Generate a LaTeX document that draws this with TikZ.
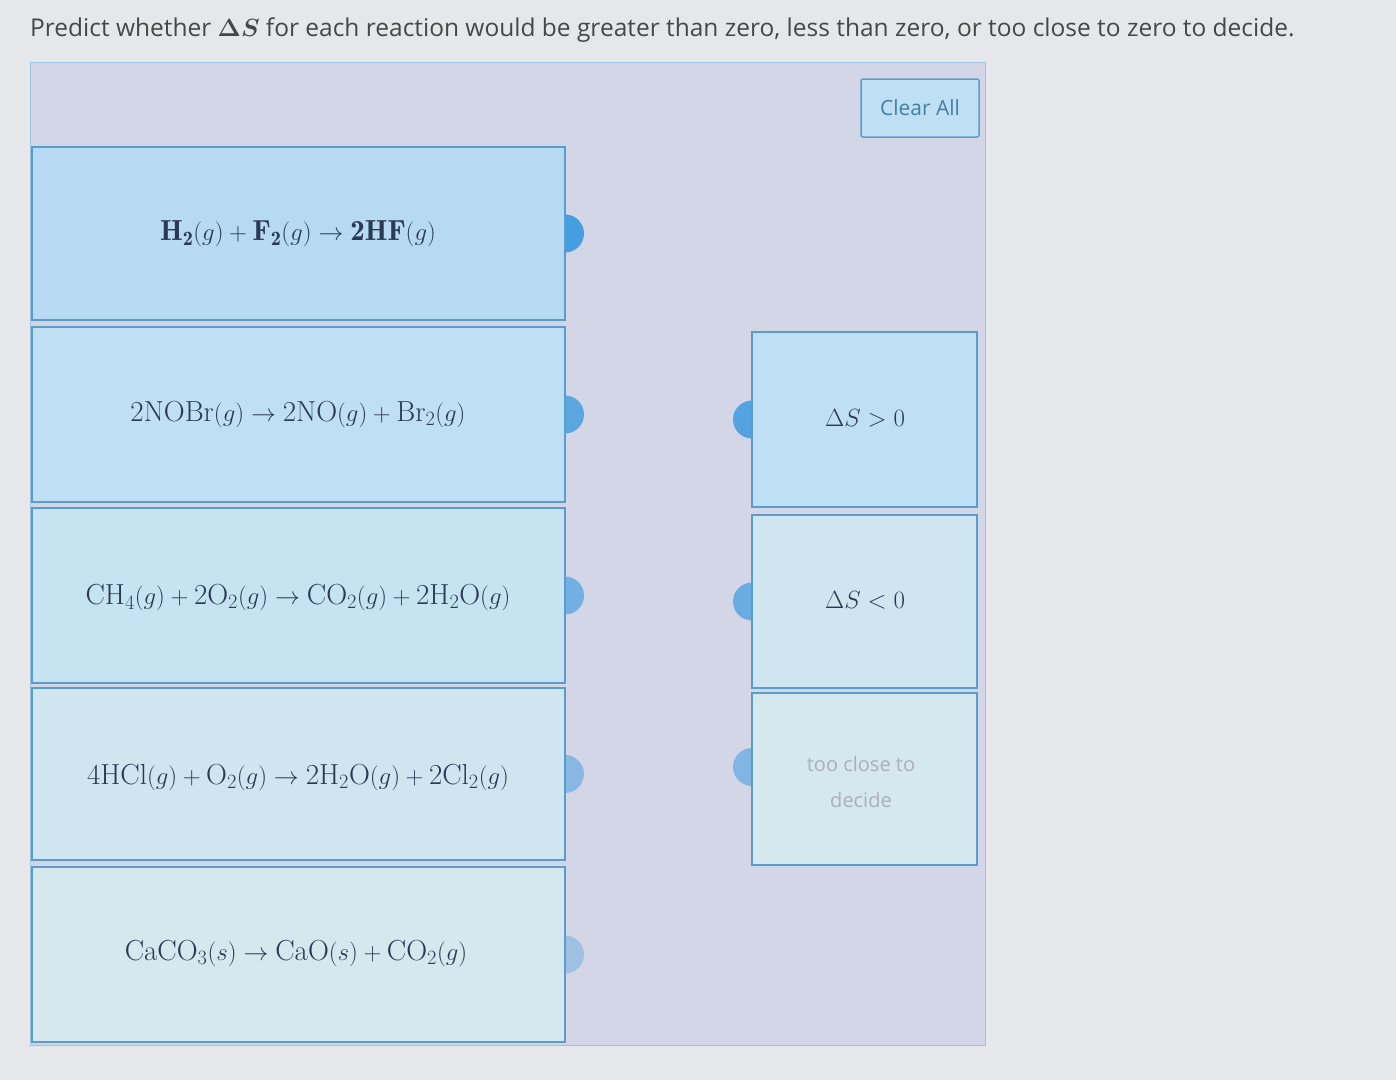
\documentclass[tikz,border=0pt]{standalone}
\usepackage{amsmath,bm}
\usepackage{fontspec}
\setsansfont{Open Sans}
\begin{document}
\begin{tikzpicture}[x=1pt,y=-1pt,
  card/.style={draw=cardline,line width=1.5pt,fill=#1},
  tab/.style={fill=tabblue},
  eq/.style={font=\fontsize{29}{32}\selectfont,text=eqtext},
  ]
\definecolor{bg}{HTML}{E6E7EA}
\definecolor{panel}{HTML}{D3D6E6}
\definecolor{cardline}{HTML}{5A9CCB}
\definecolor{tabblue}{HTML}{3E9BE0}
\definecolor{eqtext}{HTML}{2A3A55}
\definecolor{c1}{HTML}{B5DAF2}
\definecolor{c2}{HTML}{BFE0F4}
\definecolor{c3}{HTML}{C6E3F2}
\definecolor{c4}{HTML}{CFE6F0}
\definecolor{c5}{HTML}{D4E8EE}
\useasboundingbox (0,0) rectangle (1396,1080);
\fill[bg] (0,0) rectangle (1396,1080);
\node[anchor=west,inner sep=0pt,font=\sffamily\fontsize{24.5}{28}\selectfont,text=black!72] (title) at (30,30)
  {Predict whether {\fontsize{30}{32}\selectfont $\bm{\Delta S}$} for each reaction would be greater than zero, less than zero, or too close to zero to decide.};
\draw[draw=cardline!60,fill=panel,line width=1pt] (30,62) rectangle (985,1045);
\node[draw=cardline,line width=1.5pt,fill=c2,rounded corners=2pt,minimum width=118pt,minimum height=58pt,
  font=\sffamily\fontsize{21}{24}\selectfont,text=cardline!80!black] (clear) at (920,108) {Clear All};
% left cards
\foreach \n/\ya/\yb/\c in {1/147/320/c1,2/327/502/c2,3/508/683/c3,4/688/860/c4,5/867/1042/c5}{
  \fill[tab,opacity=1.1-0.15*\n] (565,{(\ya+\yb)/2}) ++(0,-19) arc[start angle=-90,end angle=90,radius=19] -- cycle;
  \draw[card=\c] (32,\ya) rectangle (565,\yb);
}
\node[eq] (r1) at (298,234) {$\mathbf{H_2}(g)+\mathbf{F_2}(g)\rightarrow \mathbf{2HF}(g)$};
\node[eq] (r2) at (298,414) {$\mathrm{2NOBr}(g)\rightarrow \mathrm{2NO}(g)+\mathrm{Br_2}(g)$};
\node[eq] (r3) at (298,597) {$\mathrm{CH_4}(g)+\mathrm{2O_2}(g)\rightarrow \mathrm{CO_2}(g)+\mathrm{2H_2O}(g)$};
\node[eq] (r4) at (298,777) {$\mathrm{4HCl}(g)+\mathrm{O_2}(g)\rightarrow \mathrm{2H_2O}(g)+\mathrm{2Cl_2}(g)$};
\node[eq] (r5) at (296,953) {$\mathrm{CaCO_3}(s)\rightarrow \mathrm{CaO}(s)+\mathrm{CO_2}(g)$};
% right cards
\foreach \n/\ya/\yb/\c in {1/332/507/c2,2/515/688/c4,3/693/865/c5}{
  \fill[tab,opacity=1-0.15*\n] (752,{(\ya+\yb)/2-(\n==3)*12}) ++(0,19) arc[start angle=90,end angle=270,radius=19] -- cycle;
  \draw[card=\c] (752,\ya) rectangle (977,\yb);
}
\node[eq] (p1) at (865,418) {$\Delta S>0$};
\node[eq] (p2) at (865,600) {$\Delta S<0$};
\node[font=\sffamily\fontsize{20}{36}\selectfont,text=eqtext!40,align=center] (p3) at (861,782) {too close to\\decide};
\end{tikzpicture}
\end{document}
